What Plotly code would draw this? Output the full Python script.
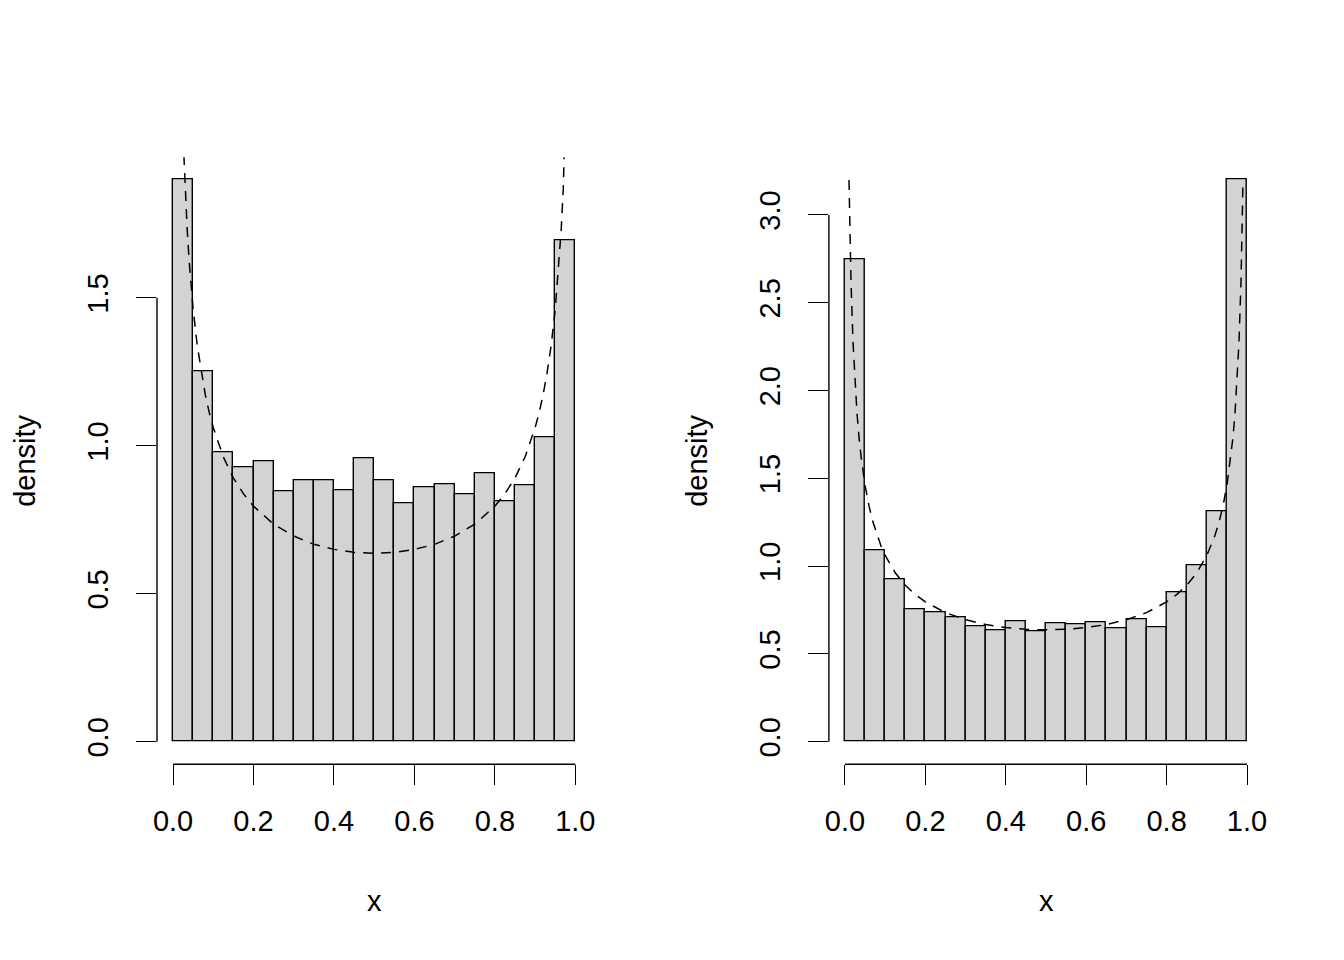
import plotly.graph_objects as go

# histogram bins (20 bins of width 0.05 on [0, 1])
bin_mids = [0.025, 0.075, 0.125, 0.175, 0.225, 0.275, 0.325, 0.375, 0.425, 0.475,
            0.525, 0.575, 0.625, 0.675, 0.725, 0.775, 0.825, 0.875, 0.925, 0.975]

# left panel densities
dens_left = [1.899, 1.253, 0.979, 0.929, 0.949, 0.847, 0.884, 0.882, 0.851, 0.957,
             0.882, 0.806, 0.859, 0.871, 0.836, 0.907, 0.814, 0.865, 1.030, 1.694]

# right panel densities
dens_right = [2.748, 1.088, 0.927, 0.752, 0.735, 0.706, 0.660, 0.634, 0.685, 0.628,
              0.676, 0.666, 0.678, 0.647, 0.700, 0.649, 0.853, 1.007, 1.313, 3.200]

# dashed reference density curve (same in both panels)
curve_x = [0.01, 0.015, 0.02, 0.025, 0.03, 0.035, 0.04, 0.05, 0.06, 0.07, 0.08, 0.09,
           0.1, 0.125, 0.15, 0.175, 0.2, 0.25, 0.3, 0.35, 0.4, 0.45, 0.5,
           0.55, 0.6, 0.65, 0.7, 0.75, 0.8, 0.825, 0.85, 0.875, 0.9,
           0.91, 0.92, 0.93, 0.94, 0.95, 0.96, 0.965, 0.97, 0.975, 0.98, 0.985, 0.99]
curve_y = [3.199, 2.619, 2.274, 2.039, 1.866, 1.732, 1.624, 1.460, 1.340, 1.248, 1.173, 1.112,
           1.061, 0.962, 0.891, 0.838, 0.796, 0.735, 0.695, 0.667, 0.650, 0.640, 0.637,
           0.640, 0.650, 0.667, 0.695, 0.735, 0.796, 0.838, 0.891, 0.962, 1.061,
           1.112, 1.173, 1.248, 1.340, 1.460, 1.624, 1.732, 1.866, 2.039, 2.274, 2.619, 3.199]

x_ticks = [0.0, 0.2, 0.4, 0.6, 0.8, 1.0]
y_ticks_left = [0.0, 0.5, 1.0, 1.5]
y_ticks_right = [0.0, 0.5, 1.0, 1.5, 2.0, 2.5, 3.0]

FONT = "Liberation Sans, Arial, Helvetica, sans-serif"
FS = 29
# the page body has an 8px margin, so the figure is a bit smaller and shifted
OFF = 8
W, H = 1344 - 2 * OFF, 960 - 2 * OFF


def px(v):
    return (v - OFF) / W


def py(v):
    return (H - (v - OFF)) / H


fig = go.Figure()

panels = [
    ("x", "y", dens_left, y_ticks_left),
    ("x2", "y2", dens_right, y_ticks_right),
]

for xa, ya, dens, yt in panels:
    fig.add_trace(go.Bar(
        x=bin_mids, y=dens, width=0.05,
        marker=dict(color="#D3D3D3", line=dict(color="black", width=1.4)),
        xaxis=xa, yaxis=ya, showlegend=False, hoverinfo="skip",
    ))
    fig.add_trace(go.Scatter(
        x=curve_x, y=curve_y, mode="lines",
        line=dict(color="black", width=1.5, dash="10px,8px"),
        xaxis=xa, yaxis=ya, showlegend=False, hoverinfo="skip",
    ))
    # R-style axis lines that only span the tick range
    fig.add_shape(type="line", xref=xa, yref=ya + " domain",
                  x0=0, x1=1, y0=0, y1=0, line=dict(color="black", width=1.4))
    fig.add_shape(type="line", xref=xa + " domain", yref=ya,
                  x0=0, x1=0, y0=yt[0], y1=yt[-1], line=dict(color="black", width=1.4))

ax_common = dict(
    showgrid=False, zeroline=False, showline=False,
    ticks="outside", ticklen=20, tickwidth=1.4, tickcolor="black",
    tickfont=dict(family=FONT, size=FS, color="black"),
)

y_dom = [py(764.2), py(157.3)]

fig.update_layout(
    width=W, height=H,
    margin=dict(l=0, r=0, t=0, b=0),
    paper_bgcolor="white", plot_bgcolor="white",
    template="none",
    bargap=0,
    xaxis=dict(domain=[px(157), px(591.4)], range=[-0.04, 1.04],
               tickvals=x_ticks, ticktext=[f"{v:.1f}" for v in x_ticks],
               anchor="y", ticklabelstandoff=11, **ax_common),
    yaxis=dict(domain=y_dom, range=[-0.04 * 1.899, 1.04 * 1.899],
               tickvals=y_ticks_left, ticktext=[f"{v:.1f}" for v in y_ticks_left],
               tickangle=-90, anchor="x", ticklabelstandoff=16, **ax_common),
    xaxis2=dict(domain=[px(828.9), px(1263.1)], range=[-0.04, 1.04],
                tickvals=x_ticks, ticktext=[f"{v:.1f}" for v in x_ticks],
                anchor="y2", ticklabelstandoff=11, **ax_common),
    yaxis2=dict(domain=y_dom, range=[-0.04 * 3.2, 1.04 * 3.2],
                tickvals=y_ticks_right, ticktext=[f"{v:.1f}" for v in y_ticks_right],
                tickangle=-90, anchor="x2", ticklabelstandoff=16, **ax_common),
)

# axis titles
for xa, dens_x in [("x", 25), ("x2", 697)]:
    fig.add_annotation(text="x", xref=xa, yref="paper", x=0.5, y=py(901),
                       showarrow=False, yanchor="middle",
                       font=dict(family=FONT, size=FS, color="black"))
    fig.add_annotation(text="density", xref="paper", yref="paper",
                       x=px(dens_x), y=py(460.8), textangle=-90,
                       showarrow=False, xanchor="center", yanchor="middle",
                       font=dict(family=FONT, size=FS, color="black"))

fig.write_html("out.html")
